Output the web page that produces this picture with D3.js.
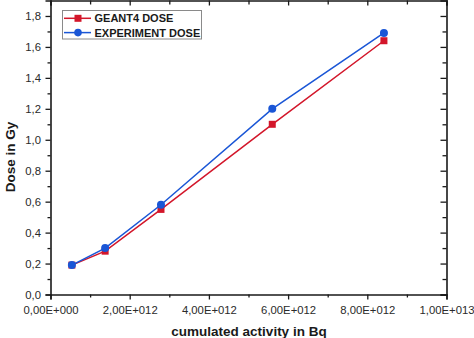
<!DOCTYPE html>
<html><head><meta charset="utf-8">
<script src="https://cdn.jsdelivr.net/npm/d3@7"></script>
<style>
html,body{margin:0;padding:0;background:#fff;}
svg{display:block;font-family:"Liberation Sans",Arial,sans-serif;}
</style></head>
<body>
<svg id="c" width="474" height="338"></svg>
<script>
const activity = [5.4e11, 1.38e12, 2.79e12, 5.6e12, 8.42e12];
const geant4Dose = [0.19, 0.28, 0.55, 1.10, 1.64];
const experimentDose = [0.19, 0.30, 0.58, 1.20, 1.69];
const seriesNames = ["GEANT4 DOSE", "EXPERIMENT DOSE"];
const xTickValues = [0, 2e12, 4e12, 6e12, 8e12, 1e13];
const xTickLabels = ["0,00E+000", "2,00E+012", "4,00E+012", "6,00E+012", "8,00E+012", "1,00E+013"];
const yTickValues = [0, 0.2, 0.4, 0.6, 0.8, 1.0, 1.2, 1.4, 1.6, 1.8];
const yTickLabels = ["0,0", "0,2", "0,4", "0,6", "0,8", "1,0", "1,2", "1,4", "1,6", "1,8"];
const xTitle = "cumulated activity in Bq";
const yTitle = "Dose in Gy";

const svg = d3.select("#c");
const L = 50.5, R = 446.5, T = 0.5, B = 294.5;
const x = d3.scaleLinear().domain([0, 1e13]).range([L, R]);
const y = d3.scaleLinear().domain([0, 1.9]).range([B, T]);
const ink = "#1a1a1a";

const xMinor = d3.range(1e12, 1e13, 2e12);
const yMinor = d3.range(1, 19, 2).map(d => d / 10);

// bottom axis
svg.append("g").attr("transform", `translate(0,${B})`)
  .call(d3.axisBottom(x).tickValues(xTickValues).tickFormat((d, i) => xTickLabels[i]).tickSize(5).tickPadding(6.5));
svg.append("g").attr("transform", `translate(0,${B})`)
  .call(d3.axisBottom(x).tickValues(xMinor).tickFormat("").tickSize(3)).select(".domain").remove();
// left axis
svg.append("g").attr("transform", `translate(${L},0)`)
  .call(d3.axisLeft(y).tickValues(yTickValues).tickFormat((d, i) => yTickLabels[i]).tickSize(5).tickPadding(4.5));
svg.append("g").attr("transform", `translate(${L},0)`)
  .call(d3.axisLeft(y).tickValues(yMinor).tickFormat("").tickSize(3)).select(".domain").remove();
// top axis (inward)
svg.append("g").attr("transform", `translate(0,${T})`)
  .call(d3.axisTop(x).tickValues(xTickValues).tickFormat("").tickSize(-5));
svg.append("g").attr("transform", `translate(0,${T})`)
  .call(d3.axisTop(x).tickValues(xMinor).tickFormat("").tickSize(-4)).select(".domain").remove();
// right axis (inward)
svg.append("g").attr("transform", `translate(${R},0)`)
  .call(d3.axisRight(y).tickValues(yTickValues).tickFormat("").tickSize(-6));
svg.append("g").attr("transform", `translate(${R},0)`)
  .call(d3.axisRight(y).tickValues(yMinor).tickFormat("").tickSize(-4)).select(".domain").remove();

svg.selectAll(".domain").attr("stroke", ink).attr("stroke-width", 1.6);
svg.selectAll(".tick line").attr("stroke", ink).attr("stroke-width", 1.3);
svg.selectAll(".tick text").attr("fill", "#2a2a2a").attr("font-size", 11.3).attr("font-family", "'Liberation Sans',Arial,sans-serif");

// titles
svg.append("text").attr("x", (L + R) / 2 + 0.5).attr("y", 335.5).attr("text-anchor", "middle")
  .attr("font-size", 13.5).attr("font-weight", "bold").attr("fill", ink).text(xTitle);
svg.append("text").attr("transform", `translate(14.5,157) rotate(-90)`).attr("text-anchor", "middle")
  .attr("font-size", 13.5).attr("font-weight", "bold").attr("fill", ink).text(yTitle);

const colors = ["#d3162a", "#1a56d6"];
const data = [geant4Dose, experimentDose];
const line = d3.line().x(d => x(d[0])).y(d => y(d[1]));

data.forEach((vals, si) => {
  const pts = activity.map((a, i) => [a, vals[i]]);
  svg.append("path").datum(pts).attr("d", line).attr("fill", "none")
    .attr("stroke", colors[si]).attr("stroke-width", 1.5);
  if (si === 0) {
    svg.selectAll(null).data(pts).enter().append("rect")
      .attr("x", d => x(d[0]) - 3.5).attr("y", d => y(d[1]) - 3.5)
      .attr("width", 7).attr("height", 7).attr("fill", colors[si]);
  } else {
    svg.selectAll(null).data(pts).enter().append("circle")
      .attr("cx", d => x(d[0])).attr("cy", d => y(d[1])).attr("r", 4).attr("fill", colors[si]);
  }
});

// legend
const lg = svg.append("g");
lg.append("rect").attr("x", 62.5).attr("y", 10.5).attr("width", 139).attr("height", 28.5)
  .attr("fill", "#fff").attr("stroke", "#8a8a8a").attr("stroke-width", 1);
seriesNames.forEach((name, i) => {
  const cy = 18.3 + i * 14.3;
  lg.append("line").attr("x1", 64).attr("x2", 91).attr("y1", cy).attr("y2", cy)
    .attr("stroke", colors[i]).attr("stroke-width", 1.5);
  if (i === 0) lg.append("rect").attr("x", 74.5).attr("y", cy - 3.5).attr("width", 7).attr("height", 7).attr("fill", colors[i]);
  else lg.append("circle").attr("cx", 78).attr("cy", cy).attr("r", 3.8).attr("fill", colors[i]);
  lg.append("text").attr("x", 94.5).attr("y", cy + 4).attr("font-size", 11).attr("font-weight", "bold")
    .attr("fill", ink).text(name);
});
</script>
</body></html>
